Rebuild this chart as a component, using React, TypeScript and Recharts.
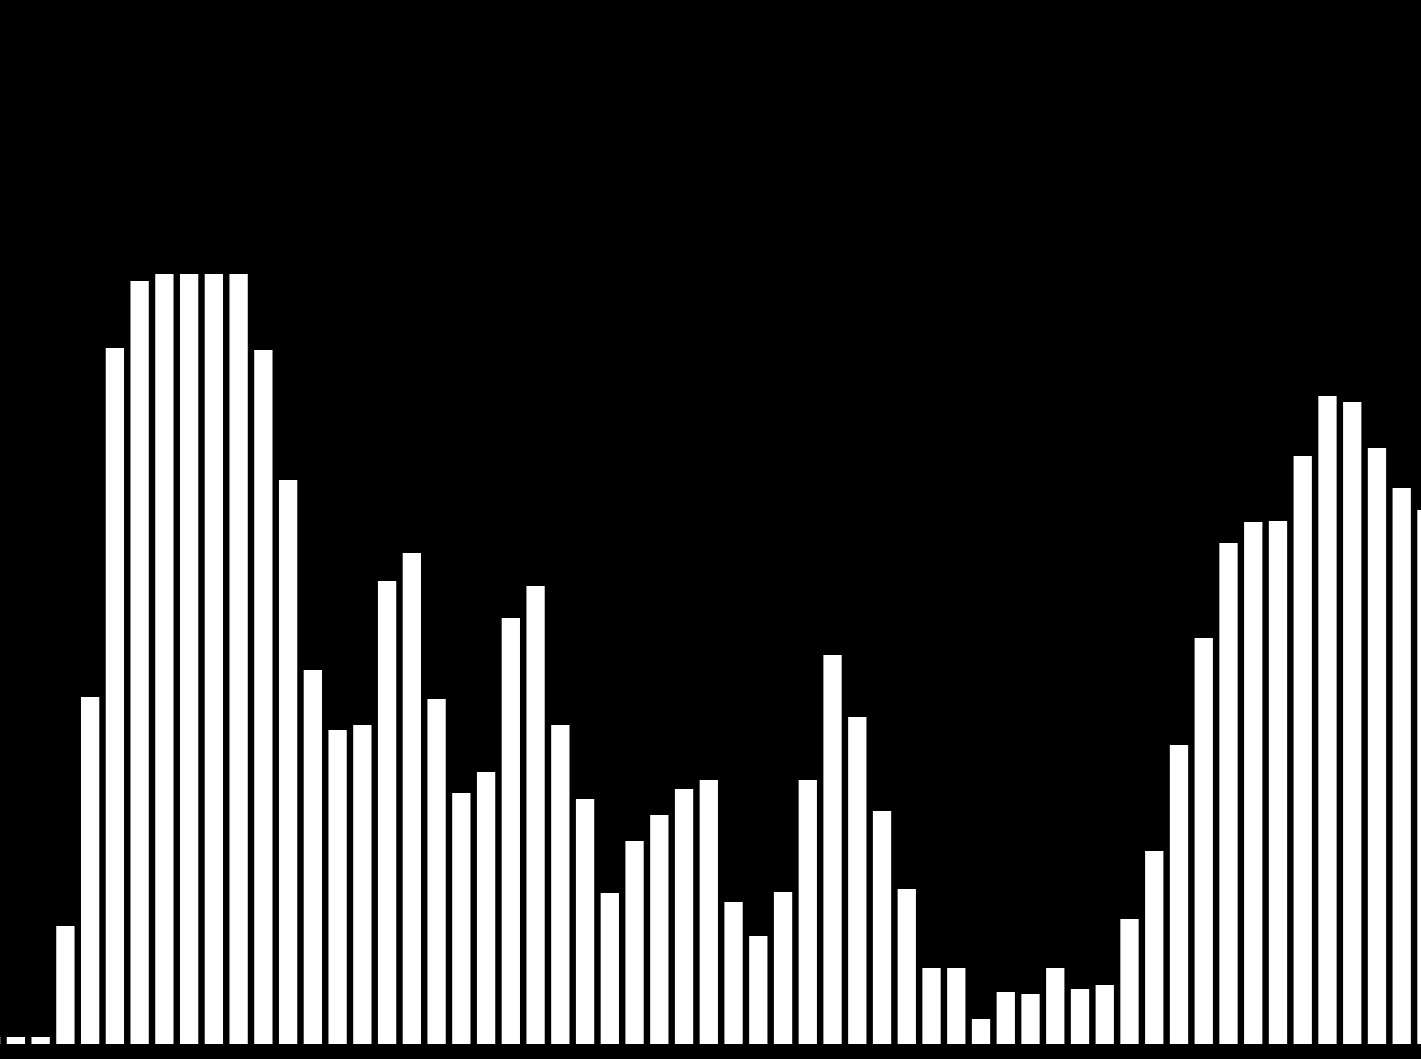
import { BarChart, Bar, XAxis, YAxis } from "recharts";

// one category per bar; the first one is only partly visible at the left edge
const weeks = Array.from({ length: 59 }, (_, i) => `W${i + 1}`);

const counts = [
  7, 7, 7, 118, 347, 696, 763, 770, 770, 770,
  770, 694, 564, 374, 314, 319, 463, 491, 345, 251,
  272, 426, 458, 319, 245, 151, 203, 229, 255, 264,
  142, 108, 152, 264, 389, 327, 233, 155, 76, 76,
  25, 52, 50, 76, 55, 59, 125, 193, 299, 406,
  501, 522, 523, 588, 648, 642, 596, 556, 534,
];

const data = weeks.map((week, i) => ({ week, count: counts[i] }));

const BAND = 24.747;

export default function App() {
  return (
    <div
      style={{
        position: "fixed",
        left: 0,
        top: 0,
        width: 1421,
        height: 1059,
        overflow: "hidden",
        background: "#000",
      }}
    >
      <div style={{ position: "absolute", left: -21.2, top: 0 }}>
        <BarChart
          width={BAND * weeks.length}
          height={1059}
          data={data}
          margin={{ top: 0, right: 0, left: 0, bottom: 15 }}
        >
          <XAxis dataKey="week" hide />
          <YAxis hide domain={[0, 1044]} />
          <Bar dataKey="count" fill="#fff" barSize={18.3} isAnimationActive={false} />
        </BarChart>
      </div>
    </div>
  );
}
